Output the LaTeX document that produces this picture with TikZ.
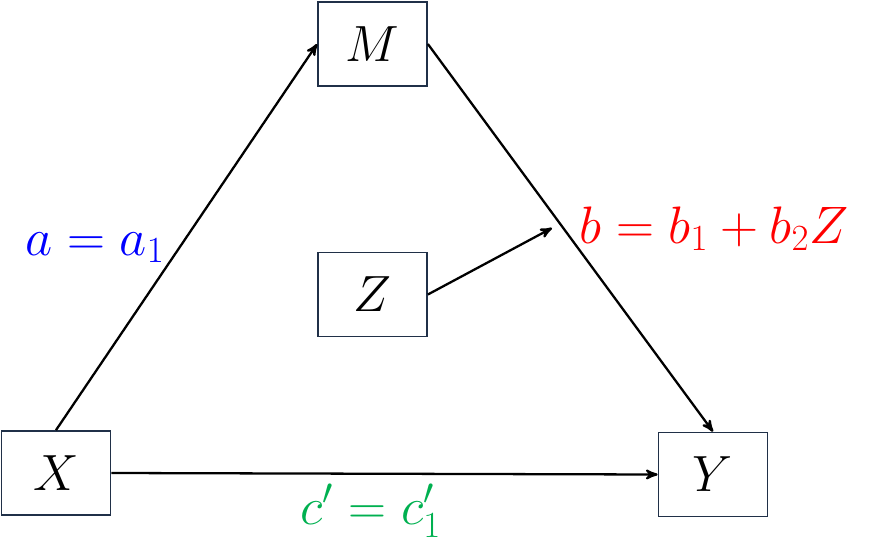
\documentclass[tikz,border=0pt]{standalone}
\usepackage{fix-cm}
\usepackage{amsmath}
\usepackage{xcolor}
\usepackage{tikz}
\usetikzlibrary{arrows}
\definecolor{boxcol}{RGB}{32,48,72}
\definecolor{cgreen}{RGB}{0,176,80}
\tikzset{
  varnode/.style = {rectangle, draw=boxcol, line width=1pt, inner sep=0pt,
    minimum width=2.18cm, minimum height=1.68cm,
    font=\fontsize{29pt}{34pt}\selectfont},% boite de variable
  coefnode/.style = {inner sep=0pt, anchor=base,
    font=\fontsize{30pt}{36pt}\selectfont},% etiquette de coefficient
  pathline/.style = {->, line width=1.3pt}% fleche
}
\begin{document}
\begin{tikzpicture}[>=stealth', x=0.02cm, y=-0.02cm]
\useasboundingbox (0,0) rectangle (878,547);
\node [varnode] (M) at (372.5,44) {$M$};
\node [varnode] (Z) at (372.5,294.5) {$Z$};
\node [varnode] (X) at (56,473) {$X$};
\node [varnode] (Y) at (713,474.5) {$Y$};
\coordinate (mid) at (552,228);

\draw [pathline] (X.north) -- (M.west);
\draw [pathline] (M.east) -- (Y.north);
\draw [pathline] (X.east) -- (Y.west);
\draw [pathline] (Z.east) -- (mid);

\node [coefnode, blue] (la) at (95,255) {$a=a_1$};
\node [coefnode, red] (lb) at (714,243) {$b=b_1+b_2Z$};
\node [coefnode, cgreen] (lc) at (371,524) {$c'=c'_1$};
\end{tikzpicture}
\end{document}
